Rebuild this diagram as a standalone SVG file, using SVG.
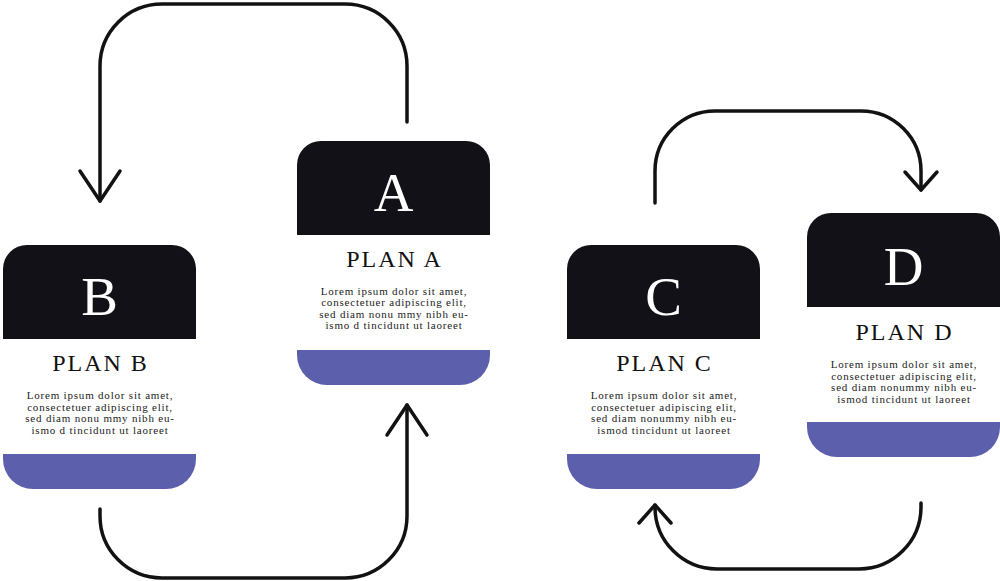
<svg xmlns="http://www.w3.org/2000/svg" width="1000" height="581" viewBox="0 0 1000 581">
  <style>
    .top { fill: #121118; }
    .band { fill: #5c5fab; }
    .letter { font-family: "Liberation Serif", "Times New Roman", serif; font-size: 55px; fill: #ffffff; text-anchor: middle; }
    .plan { font-family: "Liberation Serif", "Times New Roman", serif; font-size: 24px; fill: #111111; text-anchor: middle; letter-spacing: 2px; }
    .body { font-family: "Liberation Serif", "Times New Roman", serif; font-size: 11px; fill: #222222; text-anchor: middle; letter-spacing: 0.8px; }
    .conn { fill: none; stroke: #121212; stroke-width: 3.5; stroke-linecap: round; stroke-linejoin: round; }
    .head { fill: none; stroke: #121212; stroke-width: 3.5; stroke-linecap: round; stroke-linejoin: round; }
  </style>
  <defs>
    <marker id="arrowBig" markerUnits="userSpaceOnUse" markerWidth="60" markerHeight="60" refX="0" refY="0" orient="auto" overflow="visible">
      <path class="head" d="M-30,-20 L0,0 L-30,20"/>
    </marker>
    <marker id="arrowSmall" markerUnits="userSpaceOnUse" markerWidth="40" markerHeight="40" refX="0" refY="0" orient="auto" overflow="visible">
      <path class="head" d="M-18,-16 L0,0 L-18,16"/>
    </marker>
    <g id="cardShape">
      <path class="top" d="M0,94 V24 A24,24 0 0 1 24,0 H169 A24,24 0 0 1 193,24 V94 Z"/>
      <path class="band" d="M0,209 H193 V214 A30,30 0 0 1 163,244 H30 A30,30 0 0 1 0,214 Z"/>
    </g>
  </defs>
  <rect width="1000" height="581" fill="#ffffff"/>

  <g id="connectors">
    <path class="conn" d="M407,122 V66 A62,62 0 0 0 345,4 H162 A62,62 0 0 0 100,66 V201" marker-end="url(#arrowBig)"/>
    <path class="conn" d="M100,509 V516 A62,62 0 0 0 162,578 H345 A62,62 0 0 0 407,516 V405" marker-end="url(#arrowBig)"/>
    <path class="conn" d="M655,203 V171 A60,60 0 0 1 715,111 H861 A60,60 0 0 1 921,171 V190" marker-end="url(#arrowSmall)"/>
    <path class="conn" d="M921,503 V507 A62,62 0 0 1 859,569 H717 A62,62 0 0 1 655,507 V505" marker-end="url(#arrowSmall)"/>
  </g>

  <g id="node-a" transform="translate(297,141)">
    <use href="#cardShape"/>
    <text class="letter" x="96.5" y="70">A</text>
    <text class="plan" x="97.5" y="126">PLAN A</text>
    <text class="body" x="97" y="153.5">Lorem ipsum dolor sit amet,</text>
    <text class="body" x="97" y="165">consectetuer adipiscing elit,</text>
    <text class="body" x="97" y="176.5">sed diam nonu mmy nibh eu-</text>
    <text class="body" x="97" y="188">ismo d tincidunt ut laoreet</text>
  </g>

  <g id="node-b" transform="translate(3,245)">
    <use href="#cardShape"/>
    <text class="letter" x="96.5" y="70">B</text>
    <text class="plan" x="97.5" y="126">PLAN B</text>
    <text class="body" x="97" y="154">Lorem ipsum dolor sit amet,</text>
    <text class="body" x="97" y="165.5">consectetuer adipiscing elit,</text>
    <text class="body" x="97" y="177">sed diam nonu mmy nibh eu-</text>
    <text class="body" x="97" y="188.5">ismo d tincidunt ut laoreet</text>
  </g>

  <g id="node-c" transform="translate(567,245)">
    <use href="#cardShape"/>
    <text class="letter" x="96.5" y="70">C</text>
    <text class="plan" x="97.5" y="126">PLAN C</text>
    <text class="body" x="97" y="154">Lorem ipsum dolor sit amet,</text>
    <text class="body" x="97" y="165.5">consectetuer adipiscing elit,</text>
    <text class="body" x="97" y="177">sed diam nonummy nibh eu-</text>
    <text class="body" x="97" y="188.5">ismod tincidunt ut laoreet</text>
  </g>

  <g id="node-d" transform="translate(807,213)">
    <use href="#cardShape"/>
    <text class="letter" x="96.5" y="72">D</text>
    <text class="plan" x="97.5" y="127">PLAN D</text>
    <text class="body" x="97" y="155">Lorem ipsum dolor sit amet,</text>
    <text class="body" x="97" y="166.5">consectetuer adipiscing elit,</text>
    <text class="body" x="97" y="178">sed diam nonummy nibh eu-</text>
    <text class="body" x="97" y="189.5">ismod tincidunt ut laoreet</text>
  </g>
</svg>
